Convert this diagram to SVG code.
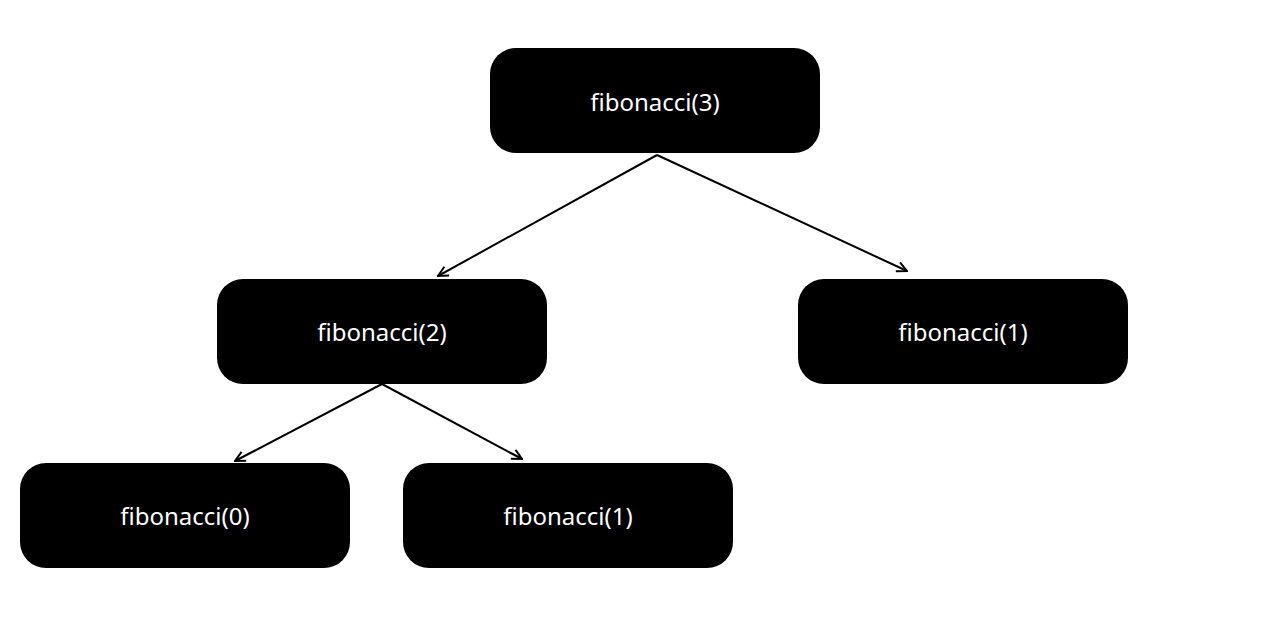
<svg xmlns="http://www.w3.org/2000/svg" width="1280" height="622" viewBox="0 0 1280 622">
<style>
.n{fill:#000}
.t{fill:#fff;font-family:"Noto Sans","DejaVu Sans",sans-serif;font-size:24px;text-anchor:middle;dominant-baseline:central}
.c{stroke:#000;stroke-width:2;fill:none;marker-end:url(#a)}
</style>
<defs><marker id="a" viewBox="0 0 12 12" refX="11" refY="6" markerWidth="12" markerHeight="12" markerUnits="userSpaceOnUse" orient="auto"><path d="M1,1 L11,6 L1,11" fill="none" stroke="#000" stroke-width="2"/></marker></defs>
<rect width="1280" height="622" fill="#fff"/>
<g id="connectors">
<line class="c" x1="657" y1="155" x2="438" y2="276"/>
<line class="c" x1="657" y1="155" x2="907" y2="271"/>
<line class="c" x1="382" y1="384" x2="235" y2="461"/>
<line class="c" x1="382" y1="384" x2="522" y2="459"/>
</g>
<g id="n3"><rect class="n" x="490" y="48" width="330" height="105" rx="26"/><text class="t" x="655" y="101">fibonacci(3)</text></g>
<g id="n2"><rect class="n" x="217" y="279" width="330" height="105" rx="26"/><text class="t" x="382" y="331">fibonacci(2)</text></g>
<g id="n1a"><rect class="n" x="798" y="279" width="330" height="105" rx="26"/><text class="t" x="963" y="331">fibonacci(1)</text></g>
<g id="n0"><rect class="n" x="20" y="463" width="330" height="105" rx="26"/><text class="t" x="185" y="515">fibonacci(0)</text></g>
<g id="n1b"><rect class="n" x="403" y="463" width="330" height="105" rx="26"/><text class="t" x="568" y="515">fibonacci(1)</text></g>
</svg>
